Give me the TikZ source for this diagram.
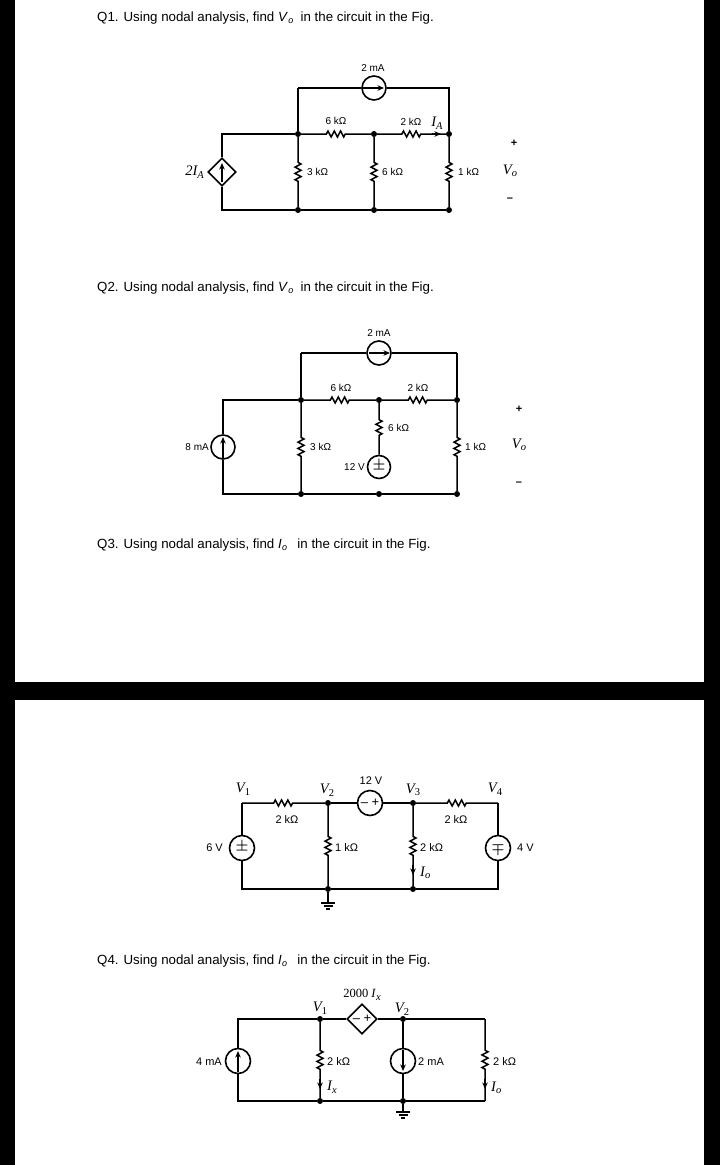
\documentclass[tikz,border=0pt]{standalone}
\usepackage{fontspec}
\setmainfont{Liberation Sans}
\newfontfamily\mathserif{Liberation Serif}
\usetikzlibrary{shapes.geometric,decorations.pathmorphing,arrows.meta}
\tikzset{wire/.style={line width=1.8pt},
	res/.style={line width=1.5pt,decorate,decoration={zigzag,amplitude=3pt,segment length=6.3pt,pre length=#1,post length=#1}},
	src/.style={circle,draw,line width=1.6pt,fill=white,inner sep=0pt,minimum size=24pt},
	dep/.style={diamond,draw,line width=1.6pt,fill=white,inner sep=0pt,minimum size=30pt},
	dot/.style={circle,fill=black,inner sep=0pt,minimum size=6pt},
	val/.style={font=\fontsize{10}{11}\selectfont,inner sep=0pt},
	valb/.style={font=\fontsize{11}{12}\selectfont,inner sep=0pt},
	sym/.style={font=\fontsize{14.5}{15}\selectfont\mathserif\itshape,inner sep=0pt},
	signlabel/.style={font=\fontsize{11}{11}\selectfont\bfseries,inner sep=0pt},
	polar/.style={font=\fontsize{15}{15}\selectfont\boldmath,inner sep=0pt},
	head/.style={font=\fontsize{13.3}{15}\selectfont,anchor=base west,inner sep=0pt},
	tip/.style={-{Stealth[length=6.5pt,width=5.5pt]},line width=1.3pt}}
\newcommand{\Vsub}{\textit{V}\kern0.3pt\raisebox{-2pt}{\fontsize{9}{10}\selectfont\textit{o}}}
\newcommand{\Isub}{\textit{I}\kern0.3pt\raisebox{-2pt}{\fontsize{9}{10}\selectfont\textit{o}}}
\newcommand{\lowsub}[1]{\raisebox{-2.5pt}{\fontsize{10.5}{11}\selectfont #1}}
\begin{document}
\begin{tikzpicture}[x=1pt,y=-1pt]
		\useasboundingbox (0,0) rectangle (720,1165);
		\fill[black] (0,0) rectangle (720,1165);
		\fill[white] (15,0) rectangle (704,682);
		\fill[white] (15,700) rectangle (704,1165);
		% headings
		\node[head] (h1) at (97,21.5) {Q1. Using nodal analysis, find \Vsub\ \ in the circuit in the Fig.};
		\node[head] (h2) at (97,291) {Q2. Using nodal analysis, find \Vsub\ \ in the circuit in the Fig.};
		\node[head] (h3) at (97,548) {Q3. Using nodal analysis, find \Isub\ \ \kern3pt in the circuit in the Fig.};
		\node[head] (h4) at (97,964) {Q4. Using nodal analysis, find \Isub\ \ \kern3pt in the circuit in the Fig.};
		% Q1
		\coordinate (a1) at (222,134);
		\coordinate (a2) at (222,210);
		\coordinate (a3) at (298,88);
		\node[dot] (a4) at (298,134) {};
		\node[dot] (a5) at (298,210) {};
		\node[dot] (a6) at (374,134) {};
		\node[dot] (a7) at (374,210) {};
		\coordinate (a8) at (449,88);
		\node[dot] (a9) at (449,134) {};
		\node[dot] (a10) at (449,210) {};
		\node[src] (as) at (374,88) {};
		\node[dep,minimum size=28pt] (ad) at (222,172) {};
		\draw[wire] (a3) -- (as) (as) -- (a8) -- (a9);
		\draw[wire] (a3) -- (a4);
		\draw[wire] (ad) -- (a1) -- (a4);
		\draw[wire] (ad) -- (a2) -- (a5) -- (a7) -- (a10);
		\draw[res=25.2pt] (a4) -- (a6);
		\draw[res=24.7pt] (a6) -- (a9);
		\draw[res=25.2pt] (a4) -- (a5);
		\draw[res=25.2pt] (a6) -- (a7);
		\draw[res=25.2pt] (a9) -- (a10);
		\draw[tip] (363,88) -- (384,88);
		\draw[tip] (222,182) -- (222,163);
		\draw[tip] (432,134) -- (441,134);
		\node[val] (at1) at (373,68) {2 mA};
		\node[val] (at2) at (336,121) {6 kΩ};
		\node[val] (at3) at (411,122) {2 kΩ};
		\node[sym] (at4) at (437,123) {\textit{I}\lowsub{\textit{A}}};
		\node[val,anchor=west] (at5) at (307,172) {3 kΩ};
		\node[val,anchor=west] (at6) at (382,172) {6 kΩ};
		\node[val,anchor=west] (at7) at (458,172) {1 kΩ};
		\node[sym,anchor=east] (at8) at (204,172) {2\textit{I}\lowsub{\textit{A}}};
		\node[sym] (at9) at (510,171) {\textit{V}\lowsub{\textit{o}}};
		\node[signlabel] (at10) at (514,143) {+};
		\node[signlabel] (at11) at (510,200) {--};
		% Q2
		\coordinate (b1) at (223,400);
		\coordinate (b2) at (223,494);
		\coordinate (b3) at (301,353);
		\node[dot] (b4) at (301,400) {};
		\node[dot] (b5) at (301,494) {};
		\node[dot] (b6) at (379,400) {};
		\node[dot] (b7) at (379,494) {};
		\coordinate (b8) at (457,353);
		\node[dot] (b9) at (457,400) {};
		\node[dot] (b10) at (457,494) {};
		\node[src] (bs) at (379,353) {};
		\node[src] (bl) at (223,447) {};
		\node[src,minimum size=23pt] (bv) at (379,467) {};
		\draw[wire,line width=2.4pt] (b3) -- (bs) (bs) -- (b8);
		\draw[wire] (b8) -- (b9);
		\draw[wire] (b3) -- (b4);
		\draw[line width=1.4pt] (bl) -- (b1) -- (b4);
		\draw[wire] (bl) -- (b2) -- (b5) -- (b7) -- (b10);
		\draw[res=26.2pt] (b4) -- (b6);
		\draw[res=26.2pt] (b6) -- (b9);
		\draw[res=16.4pt] (b6) -- (bv);
		\draw[res=34.2pt] (b4) -- (b5);
		\draw[res=34.2pt] (b9) -- (b10);
		\draw[tip] (369,353) -- (390,353);
		\draw[tip] (223,458) -- (223,437);
		\node[val] (bt1) at (379,333) {2 mA};
		\node[val] (bt2) at (341,388) {6 kΩ};
		\node[val] (bt3) at (418,388) {2 kΩ};
		\node[val,anchor=west] (bt4) at (388,428) {6 kΩ};
		\node[val,anchor=west] (bt5) at (310,447) {3 kΩ};
		\node[val,anchor=west] (bt6) at (465,447) {1 kΩ};
		\node[val,anchor=east] (bt7) at (209,447) {8 mA};
		\node[val,anchor=east] (bt8) at (365,467) {12 V};
		\node[sym] (bt9) at (519,445) {\textit{V}\lowsub{\textit{o}}};
		\node[signlabel] (bt10) at (519,409) {+};
		\node[signlabel] (bt11) at (519,484) {--};
		\node[polar] (bp) at (379,466) {$\pm$};
		% Q3
		\coordinate (c1) at (242,803);
		\coordinate (c2) at (242,889);
		\node[dot] (c3) at (328,803) {};
		\node[dot] (c4) at (328,889) {};
		\node[dot] (c5) at (413,803) {};
		\node[dot] (c6) at (413,889) {};
		\coordinate (c7) at (498,803);
		\coordinate (c8) at (498,889);
		\coordinate (cg) at (328,903);
		\node[src,minimum size=25pt] (cs) at (370,803) {};
		\node[src,minimum size=25pt] (cl) at (242,848) {};
		\node[src,minimum size=25pt] (cr) at (498,848) {};
		\draw[res=31.7pt] (c1) -- (c3);
		\draw[wire] (c3) -- (cs) (cs) -- (c5);
		\draw[res=31.2pt] (c5) -- (c7);
		\draw[wire] (cl) -- (c1);
		\draw[wire] (cr) -- (c7);
		\draw[wire] (cl) -- (c2) -- (c4) -- (c6) -- (c8) -- (cr);
		\draw[res=30.2pt] (c3) -- (c4);
		\draw[res=30.2pt] (c5) -- (c6);
		\draw[wire] (c4) -- (cg);
		\draw[line width=1.3pt] (321,903) -- (335,903) (323.5,906) -- (332.5,906) (326,909) -- (330,909);
		\draw[tip] (413,865) -- (413,875);
		\node[sym] (ct1) at (243,789) {\textit{V}\lowsub{\upshape 1}};
		\node[sym] (ct2) at (327,790) {\textit{V}\lowsub{\upshape 2}};
		\node[sym] (ct3) at (413,790) {\textit{V}\lowsub{\upshape 3}};
		\node[sym] (ct4) at (495,789) {\textit{V}\lowsub{\upshape 4}};
		\node[valb] (ct5) at (371,781) {12 V};
		\node[valb] (ct6) at (287,820) {2 kΩ};
		\node[valb] (ct7) at (456,820) {2 kΩ};
		\node[valb,anchor=west] (ct8) at (335,848) {1 kΩ};
		\node[valb,anchor=west] (ct9) at (420,848) {2 kΩ};
		\node[valb,anchor=east] (ct10) at (223,848) {6 V};
		\node[valb,anchor=west] (ct11) at (517,848) {4 V};
		\node[sym,anchor=west] (ct12) at (420,873) {\textit{I}\lowsub{\textit{o}}};
		\node[polar] (cp1) at (242,847) {$\pm$};
		\node[polar] (cp2) at (498,849) {$\mp$};
		\node[font=\fontsize{13}{13}\selectfont,inner sep=0pt] (cp3) at (370,803) {-- +};
		% Q4
		\coordinate (d1) at (238,1019);
		\coordinate (d2) at (238,1101);
		\node[dot] (d3) at (320,1019) {};
		\node[dot] (d4) at (320,1101) {};
		\node[dot] (d5) at (403,1019) {};
		\node[dot] (d6) at (403,1101) {};
		\coordinate (d7) at (485,1019);
		\coordinate (d8) at (485,1101);
		\coordinate (dg) at (403,1112);
		\node[dep] (dd) at (362,1019) {};
		\node[src,minimum size=25pt] (dl) at (238,1061) {};
		\node[src,minimum size=25pt] (dm) at (403,1061) {};
		\draw[wire] (dl) -- (d1) -- (d3) -- (dd) (dd) -- (d5) -- (d7);
		\draw[wire] (dl) -- (d2) -- (d4) -- (d6) -- (d8);
		\draw[wire] (d5) -- (dm) (dm) -- (d6);
		\draw[wire] (d6) -- (dg);
		\draw[res=28.2pt] (d3) -- (d4);
		\draw[res=31.2pt] (d7) -- (d8);
		\draw[line width=1.3pt] (396,1112) -- (410,1112) (398.5,1115) -- (407.5,1115) (401,1118) -- (405,1118);
		\draw[tip] (238,1072) -- (238,1051);
		\draw[tip] (403,1050) -- (403,1071);
		\draw[tip] (320,1079) -- (320,1089);
		\draw[tip] (485,1079) -- (485,1089);
		\node[sym] (dt1) at (320,1008) {\textit{V}\lowsub{\upshape 1}};
		\node[sym] (dt2) at (402,1009) {\textit{V}\lowsub{\upshape 2}};
		\node[font=\fontsize{12.5}{13}\selectfont\mathserif,inner sep=0pt] (dt3) at (362,995) {2000 \textit{I}\lowsub{\textit{x}}};
		\node[font=\fontsize{13}{13}\selectfont,inner sep=0pt] (dp) at (362,1019) {-- +};
		\node[valb,anchor=east] (dt4) at (222,1062) {4 mA};
		\node[valb,anchor=west] (dt5) at (327,1062) {2 kΩ};
		\node[valb,anchor=west] (dt6) at (418,1062) {2 mA};
		\node[valb,anchor=west] (dt7) at (493,1062) {2 kΩ};
		\node[sym,anchor=west] (dt8) at (327,1087) {\textit{I}\lowsub{\textit{x}}};
		\node[sym,anchor=west] (dt9) at (491,1088) {\textit{I}\lowsub{\textit{o}}};
		\end{tikzpicture}
\end{document}
